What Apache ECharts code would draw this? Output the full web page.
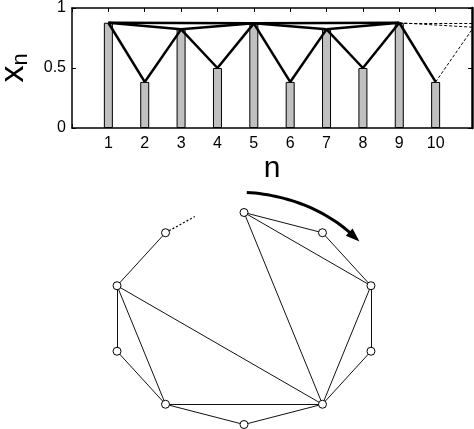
<!DOCTYPE html>
<html><head><meta charset="utf-8">
<script src="https://cdn.jsdelivr.net/npm/echarts@6/dist/echarts.min.js"></script>
<style>html,body{margin:0;padding:0;background:#fff}#c{width:474px;height:429px}</style>
</head><body><div id="c"></div>
<script>
// ---- data ----
const nValues = [1, 2, 3, 4, 5, 6, 7, 8, 9, 10];
const xValues = [0.877, 0.384, 0.822, 0.5, 0.872, 0.384, 0.822, 0.5, 0.877, 0.384];
const edges = [[1,2],[2,3],[1,3],[1,5],[3,4],[4,5],[3,5],[5,6],[6,7],[5,7],[5,9],[7,8],[8,9],[7,9],[9,10]];
// dashed continuation links leaving the frame (from node, value at the frame edge n=11)
const outLinks = [[9, 0.877], [9, 0.84], [10, 0.82]];
const yTicks = [0, 0.5, 1];

const FONT = 'Liberation Sans, Arial, sans-serif';
const val = n => xValues[n - 1];
const ang = n => (90 - 36 * (n - 1)) * Math.PI / 180;
const pos = n => [Math.cos(ang(n)), Math.sin(ang(n))];

const topEdges = edges.map(([a, b]) => ({coords: [[a, val(a)], [b, val(b)]]}));
const topDashed = outLinks.map(([a, v]) => ({coords: [[a, val(a)], [11, v]]}));
const circEdges = edges.map(([a, b]) => ({coords: [pos(a), pos(b)]}));
// dotted stub leaving node 10 toward the (unseen) next node
const stubA = 111 * Math.PI / 180;
const circStub = [{coords: [pos(10), [1.03 * Math.cos(stubA), 1.03 * Math.sin(stubA)]]}];
// clockwise arrow over the top of the ring
const arc = [];
for (let i = 0; i <= 30; i++) {
  const t = i / 30, a = (89 - 46 * t) * Math.PI / 180, r = 1.19 - 0.06 * t;
  arc.push([r * Math.cos(a), r * Math.sin(a)]);
}
const SX = 133.5, SY = 106;
const pA = arc[arc.length - 3], pB = arc[arc.length - 1];
const headRot = Math.atan2((pB[1] - pA[1]) * SY, (pB[0] - pA[0]) * SX) * 180 / Math.PI - 90;

const frameAxis = {onZero: false, lineStyle: {color: '#000', width: 1.5}};
const chart = echarts.init(document.getElementById('c'), null, {renderer: 'canvas'});
chart.setOption({
  animation: false,
  grid: [
    {left: 72, top: 8, width: 400, height: 120, outerBoundsMode: 'none', containLabel: false},
    {left: 110.5, top: 212.5, width: 267, height: 212, outerBoundsMode: 'none', containLabel: false}
  ],
  xAxis: [
    {gridIndex: 0, type: 'value', min: 0, max: 11, interval: 1, position: 'bottom',
     name: 'n', nameLocation: 'middle', nameGap: 26,
     nameTextStyle: {fontSize: 30, fontFamily: FONT, color: '#000'},
     axisLine: frameAxis,
     axisTick: {inside: true, length: 4, lineStyle: {color: '#000'}},
     axisLabel: {fontSize: 16, fontFamily: FONT, color: '#000', margin: 8,
       formatter: v => nValues.includes(v) ? String(v) : ''},
     splitLine: {show: false}},
    {gridIndex: 0, type: 'value', min: 0, max: 11, interval: 1, position: 'top',
     axisLine: frameAxis,
     axisTick: {inside: true, length: 4, lineStyle: {color: '#000'}},
     axisLabel: {show: false}, splitLine: {show: false}},
    {gridIndex: 1, type: 'value', min: -1, max: 1, show: false}
  ],
  yAxis: [
    {gridIndex: 0, type: 'value', min: 0, max: 1, interval: 0.5, position: 'left',
     name: '{x|x}{n|n}', nameLocation: 'middle', nameGap: 40, nameRotate: 90,
     nameTextStyle: {rich: {
       x: {fontSize: 34, fontFamily: FONT, color: '#000'},
       n: {fontSize: 22, fontFamily: FONT, color: '#000', padding: [14, 0, 0, 0]}}},
     axisLine: frameAxis,
     axisTick: {inside: true, length: 4, lineStyle: {color: '#000'}},
     axisLabel: {fontSize: 16, fontFamily: FONT, color: '#000', margin: 6,
       formatter: v => yTicks.includes(v) ? String(v) : ''},
     splitLine: {show: false}},
    {gridIndex: 0, type: 'value', min: 0, max: 1, interval: 0.5, position: 'right',
     axisLine: {onZero: false, lineStyle: {color: '#000', width: 2.5}},
     axisTick: {inside: true, length: 4, lineStyle: {color: '#000'}},
     axisLabel: {show: false}, splitLine: {show: false}},
    {gridIndex: 1, type: 'value', min: -1, max: 1, show: false}
  ],
  series: [
    {type: 'bar', xAxisIndex: 0, yAxisIndex: 0, barWidth: 9,
     data: nValues.map(n => [n, val(n)]),
     itemStyle: {color: '#c0c0c0', borderColor: '#000', borderWidth: 1}, z: 2},
    {type: 'lines', coordinateSystem: 'cartesian2d', xAxisIndex: 0, yAxisIndex: 0, clip: false,
     data: topEdges, lineStyle: {color: '#000', width: 2.5, opacity: 1}, z: 3, silent: true},
    {type: 'lines', coordinateSystem: 'cartesian2d', xAxisIndex: 0, yAxisIndex: 0, clip: false,
     data: topDashed, lineStyle: {color: '#000', width: 1, type: [3, 2], opacity: 1}, z: 3, silent: true},
    {type: 'lines', coordinateSystem: 'cartesian2d', xAxisIndex: 2, yAxisIndex: 2, clip: false,
     data: circEdges, lineStyle: {color: '#111', width: 1, opacity: 1}, z: 3, silent: true},
    {type: 'lines', coordinateSystem: 'cartesian2d', xAxisIndex: 2, yAxisIndex: 2, clip: false,
     data: circStub, lineStyle: {color: '#000', width: 1.2, type: [2, 2], opacity: 1}, z: 3, silent: true},
    {type: 'lines', coordinateSystem: 'cartesian2d', xAxisIndex: 2, yAxisIndex: 2, polyline: true, clip: false,
     data: [{coords: arc}],
     lineStyle: {color: '#000', width: 3, opacity: 1}, z: 3, silent: true},
    {type: 'scatter', xAxisIndex: 2, yAxisIndex: 2, clip: false, symbol: 'triangle',
     symbolSize: [10, 14], symbolRotate: headRot, data: [arc[arc.length - 1]],
     itemStyle: {color: '#000', opacity: 1}, z: 4, silent: true},
    {type: 'scatter', xAxisIndex: 2, yAxisIndex: 2, clip: false, symbol: 'circle', symbolSize: 8,
     data: nValues.map(pos),
     itemStyle: {color: '#fff', borderColor: '#000', borderWidth: 1, opacity: 1}, z: 5, silent: true}
  ]
});
</script></body></html>
